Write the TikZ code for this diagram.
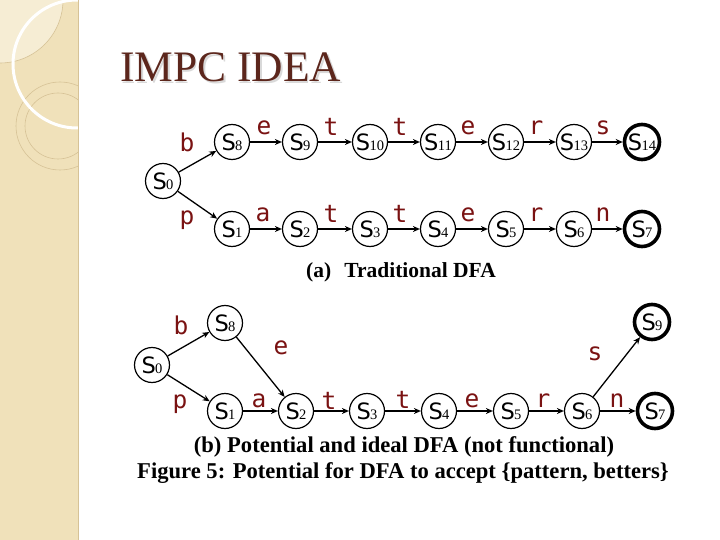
\documentclass[tikz,border=0pt]{standalone}
\usepackage{fontspec}
\setmainfont{Liberation Serif}
\newfontfamily\dejafont{DejaVu Sans}
\newfontfamily\monofnt{DejaVu Sans Mono}
\usetikzlibrary{arrows.meta}
\definecolor{lab}{RGB}{122,18,18}
\definecolor{ttl}{RGB}{92,38,28}
\definecolor{beige}{RGB}{240,225,186}
\definecolor{beigelt}{RGB}{246,237,212}
\definecolor{beigeln}{RGB}{214,194,150}
\newcommand\stn[1]{{\dejafont\fontsize{22.5}{22.5}\selectfont S}\kern-0.6pt{\fontsize{14.5}{14.5}\selectfont #1}}
\begin{document}
\begin{tikzpicture}[x=1pt,y=-1pt,
  st/.style={circle,draw,line width=1.2pt,minimum size=35pt,inner sep=0pt},
  acc/.style={st,line width=3.6pt},
  lb/.style={text=lab,font=\monofnt\fontsize{24.5}{24.5}\selectfont,inner sep=0pt},
  ed/.style={-{Stealth[length=7pt,width=6pt]},line width=1.3pt},
  captext/.style={font=\bfseries\fontsize{22.6}{22.6}\selectfont,inner sep=0pt}]
\useasboundingbox (0,0) rectangle (720,540);
\fill[white] (0,0) rectangle (720,540);
% decorative strip
\fill[beige] (0,0) rectangle (78,540);
\begin{scope}
\clip (0,0) rectangle (78,540);
\fill[beigelt] (0,0) circle (63);
\draw[beigeln,line width=0.6pt] (0,0) circle (63);
\draw[beigeln,line width=0.6pt] (60,126) circle (44);
\draw[beigeln,line width=0.6pt] (58,126) circle (33);
\draw[white,line width=3pt] (77,64) circle (64);
\end{scope}
\draw[beigeln,line width=0.4pt] (78,0) -- (78,540);
% title
\node[anchor=base west,inner sep=0pt,text=black!15,font=\fontsize{43.5}{43.5}\selectfont] (tsh) at (121.5,83.5) {IMPC IDEA};
\node[anchor=base west,inner sep=0pt,text=ttl,font=\fontsize{43.5}{43.5}\selectfont] (title) at (120,82) {IMPC IDEA};
% (a) traditional DFA
\node[st] (a0) at (163,181) {\stn{0}};
\node[st] (a8) at (232,142) {\stn{8}};
\node[st] (a9) at (300,142) {\stn{9}};
\node[st] (a10) at (370,142) {\stn{10}};
\node[st] (a11) at (438,142) {\stn{11}};
\node[st] (a12) at (506,142) {\stn{12}};
\node[st] (a13) at (574,142) {\stn{13}};
\node[acc] (a14) at (642,142) {\stn{14}};
\node[st] (a1) at (232,229) {\stn{1}};
\node[st] (a2) at (300,229) {\stn{2}};
\node[st] (a3) at (370,229) {\stn{3}};
\node[st] (a4) at (438,229) {\stn{4}};
\node[st] (a5) at (506,229) {\stn{5}};
\node[st] (a6) at (574,229) {\stn{6}};
\node[acc] (a7) at (642,229) {\stn{7}};
\draw[ed] (a0) -- (a8);
\draw[ed] (a0) -- (a1);
\draw[ed] (a8) -- (a9);
\draw[ed] (a9) -- (a10);
\draw[ed] (a10) -- (a11);
\draw[ed] (a11) -- (a12);
\draw[ed] (a12) -- (a13);
\draw[ed] (a13) -- (a14);
\draw[ed] (a1) -- (a2);
\draw[ed] (a2) -- (a3);
\draw[ed] (a3) -- (a4);
\draw[ed] (a4) -- (a5);
\draw[ed] (a5) -- (a6);
\draw[ed] (a6) -- (a7);
\node[lb] (lab1) at (187,142) {b};
\node[lb] (lab2) at (187,220) {p};
\node[lb] (lab3) at (264,128) {e};
\node[lb] (lab4) at (331,127) {t};
\node[lb] (lab5) at (400,127) {t};
\node[lb] (lab6) at (468,128) {e};
\node[lb] (lab7) at (536,128) {r};
\node[lb] (lab8) at (603,128) {s};
\node[lb] (lab9) at (263,215) {a};
\node[lb] (lab10) at (331,214) {t};
\node[lb] (lab11) at (400,214) {t};
\node[lb] (lab12) at (468,215) {e};
\node[lb] (lab13) at (536,215) {r};
\node[lb] (lab14) at (603,215) {n};
\node[captext,font=\bfseries\fontsize{21.5}{21.5}\selectfont] (capa) at (401,272) {(a)\hspace{13pt}Traditional DFA};
% (b) potential DFA
\node[st] (b0) at (152,365) {\stn{0}};
\node[st] (b8) at (225,323) {\stn{8}};
\node[st] (b1) at (225,411) {\stn{1}};
\node[st] (b2) at (296,411) {\stn{2}};
\node[st] (b3) at (367,411) {\stn{3}};
\node[st] (b4) at (439,411) {\stn{4}};
\node[st] (b5) at (511,411) {\stn{5}};
\node[st] (b6) at (582,411) {\stn{6}};
\node[acc] (b7) at (655,411) {\stn{7}};
\node[acc] (b9) at (652,322) {\stn{9}};
\draw[ed] (b0) -- (b8);
\draw[ed] (b0) -- (b1);
\draw[ed] (b8) -- (b2);
\draw[ed] (b1) -- (b2);
\draw[ed] (b2) -- (b3);
\draw[ed] (b3) -- (b4);
\draw[ed] (b4) -- (b5);
\draw[ed] (b5) -- (b6);
\draw[ed] (b6) -- (b7);
\draw[ed] (b6) -- (b9);
\node[lb] (lbb1) at (181,325) {b};
\node[lb] (lbb2) at (180,404) {p};
\node[lb] (lbb3) at (281,348) {e};
\node[lb] (lbb4) at (259,401) {a};
\node[lb] (lbb5) at (329,401) {t};
\node[lb] (lbb6) at (403,400) {t};
\node[lb] (lbb7) at (472,401) {e};
\node[lb] (lbb8) at (543,401) {r};
\node[lb] (lbb9) at (617,401) {n};
\node[lb] (lbb10) at (595,354) {s};
\node[captext] (capb) at (404,447) {(b) Potential and ideal DFA (not functional)};
\node[captext] (fig) at (403,473) {Figure 5: Potential for DFA to accept \{pattern, betters\}};
\end{tikzpicture}
\end{document}
